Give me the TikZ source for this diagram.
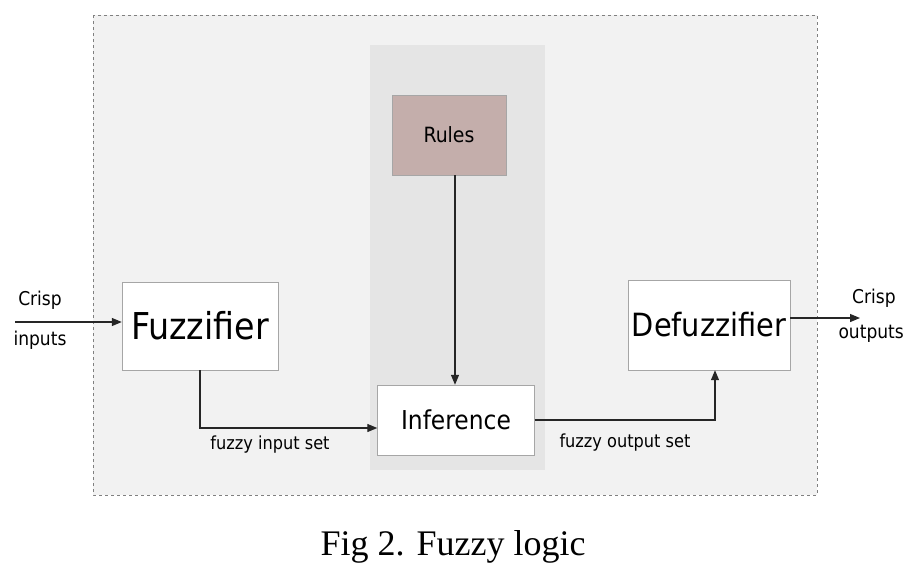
\documentclass[tikz,border=0pt]{standalone}
\usepackage{fontspec}
\setmainfont{Liberation Serif}
\newfontfamily\djfont{DejaVu Sans Condensed}
\usetikzlibrary{arrows.meta}
\begin{document}
\begin{tikzpicture}[x=1pt,y=-1pt,
  blk/.style={draw=gray!70,fill=white,inner sep=0,font=\djfont},
  conn/.style={draw=black!85,line width=1.2pt,-{Triangle[length=10pt,width=8pt]}},
  lbl/.style={font=\djfont\fontsize{19}{22}\selectfont,align=center,inner sep=0}]
\useasboundingbox (0,0) rectangle (907,562);
\fill[white] (0,0) rectangle (907,562);
\draw[dashed,draw=gray,fill=black!5] (93,15) rectangle (817,495);
\fill[black!10] (370,45) rectangle (545,470);
\node[blk,fill={rgb,255:red,196;green,174;blue,171},minimum width=114pt,minimum height=80pt,font=\djfont\fontsize{21}{24}\selectfont] (r) at (449,135) {Rules};
\node[blk,minimum width=156pt,minimum height=88pt,font=\djfont\fontsize{37}{40}\selectfont] (f) at (200,326) {Fuzzifier};
\node[blk,minimum width=162pt,minimum height=90pt,font=\djfont\fontsize{32}{36}\selectfont] (d) at (709,325) {Defuzzifier};
\node[blk,minimum width=157pt,minimum height=70pt,font=\djfont\fontsize{26}{30}\selectfont] (i) at (456,420) {Inference};
\coordinate (cin) at (15,322);
\coordinate (cout) at (860,318);
\node[lbl] (t1a) at (40,300) {Crisp};
\node[lbl] (t1b) at (40,340) {inputs};
\node[lbl,anchor=west] (t2a) at (852,298) {Crisp};
\node[lbl,anchor=east] (t2b) at (904,334) {outputs};
\draw[conn] (cin) -- (f.west|-cin);
\draw[conn] (d.east|-cout) -- (cout);
\draw[conn] (r.south-|455,0) -- (i.north-|455,0);
\draw[conn] (f.south-|200,0) |- (i.west|-0,428);
\draw[conn] (i.east|-0,420) -| (d.south-|715,0);
\node[lbl,font=\djfont\fontsize{18}{20}\selectfont] (l1) at (270,445) {fuzzy input set};
\node[lbl,font=\djfont\fontsize{18}{20}\selectfont] (l2) at (625,443) {fuzzy output set};
\node[font=\fontsize{36}{40}\selectfont,anchor=base] (cap) at (453,555) {Fig 2. Fuzzy logic};
\end{tikzpicture}
\end{document}
